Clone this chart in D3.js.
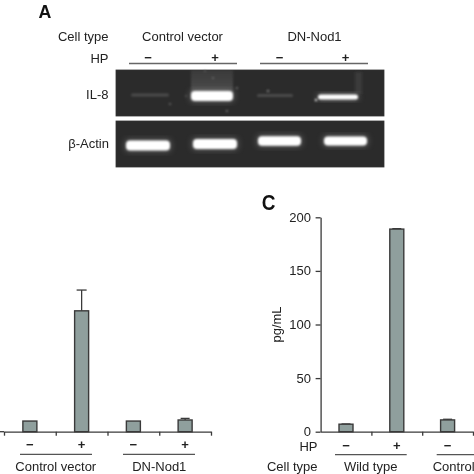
<!DOCTYPE html>
<html><head><meta charset="utf-8">
<script src="https://cdn.jsdelivr.net/npm/d3@7"></script>
<style>html,body{margin:0;padding:0;background:#fff}svg{display:block;filter:blur(.3px)}text{font-family:"Liberation Sans",Arial,sans-serif;font-size:13px;fill:#222}</style>
</head><body><svg id="c" width="474" height="474"></svg>
<script>
// Panel A gel data
const gelLanes = ["Control vector -","Control vector +","DN-Nod1 -","DN-Nod1 +"];
const il8Intensity = [0.15,1,0.15,1];
const il8Width = [38,42,36,40];
const il8Height = [3,10,3,5];
const il8Center = [95,96,95.5,97];
const actinIntensity = [1,1,1,1];
const actinWidth = [44,44,43,43];
const actinHeight = [10,10,9.5,9];
const actinCenter = [145.5,144,141,141];
const actinLaneX = [148,215,279.5,345.5];
const il8LaneX = [150,212,275,338];
const specksX = [205,213,237,186,170,227,268,316];
const specksY = [71,78,88,96,104,111,91,100];
const specksR = [.8,.9,1,.8,.9,1.1,1.3,1.2];
// Panel B data
const bLanes = ["−","+","−","+"];
const bValues = [1,11.35,1,1.1];
const bErrors = [0,1.95,0,0.15];
const bGroups = ["Control vector","DN-Nod1"];
// Panel C data
const cLanes = ["−","+","−"];
const cValues = [7,189,11];
const cErrors = [0.2,0.4,0.6];
const cTicks = [0,50,100,150,200];
const cGroups = ["Wild type","Control"];

const svg = d3.select("#c");
const ink = "#3a3a3a", barFill = "#8f9f9d", ruleC = "#555";
const defs = svg.append("defs");
defs.append("filter").attr("id","soft").attr("x","-30%").attr("y","-80%").attr("width","160%").attr("height","260%")
  .append("feGaussianBlur").attr("stdDeviation","1.3");
defs.append("filter").attr("id","soft2").attr("x","-30%").attr("y","-30%").attr("width","160%").attr("height","160%")
  .append("feGaussianBlur").attr("stdDeviation","3");
defs.append("filter").attr("id","tiny").attr("x","-100%").attr("y","-200%").attr("width","300%").attr("height","500%")
  .append("feGaussianBlur").attr("stdDeviation","0.9");
const smear = defs.append("linearGradient").attr("id","smear").attr("x1",0).attr("x2",0).attr("y1",0).attr("y2",1);
smear.append("stop").attr("offset","0").attr("stop-color","#666").attr("stop-opacity",.25);
smear.append("stop").attr("offset","1").attr("stop-color","#888").attr("stop-opacity",.4);

function label(x,y,t,anchor,size,weight){
  const e = svg.append("text").attr("x",x).attr("y",y).attr("text-anchor",anchor||"start").text(t);
  if(size) e.style("font-size",size+"px");
  if(weight) e.style("font-weight",weight);
  return e;
}
function rule(x1,x2,y,col,w){svg.append("line").attr("x1",x1).attr("x2",x2).attr("y1",y).attr("y2",y).attr("stroke",col||ruleC).attr("stroke-width",w||1.2);}

// Panel letters
svg.append("text").attr("transform","translate(45,17.5) scale(1.05,1.1)").attr("text-anchor","middle").style("font-size","17px").style("font-weight","bold").style("fill","#111").text("A");
svg.append("text").attr("transform","translate(268.5,210) scale(.95,1.08)").attr("text-anchor","middle").style("font-size","20px").style("font-weight","bold").style("fill","#111").text("C");

// Panel A header
label(108.5,41,"Cell type","end");
label(108.5,63,"HP","end");
label(182.5,41,"Control vector","middle");
label(314.5,41,"DN-Nod1","middle");
gelLanes.forEach((l,i)=>{label(actinLaneX[i],62,i%2?"+":"−","middle",13,"bold")});
rule(129,237,63.5,"#666",1.3); rule(260,368,63.5,"#666",1.3);
label(108.5,99,"IL-8","end");
label(109,148,"β-Actin","end");

function gel(y,h){
  svg.append("rect").attr("x",116).attr("y",y).attr("width",268).attr("height",h).attr("fill","#2b2b2b").attr("stroke","#333").attr("stroke-width",.8);
}
gel(70,46); gel(121,46);
const clip = defs.append("clipPath").attr("id","g1"); clip.append("rect").attr("x",116).attr("y",70).attr("width",268).attr("height",46);
const gA = svg.append("g").attr("clip-path","url(#g1)");
gA.append("rect").attr("x",191).attr("y",70).attr("width",42).attr("height",24).attr("fill","url(#smear)").attr("filter","url(#soft)");
gA.append("rect").attr("x",355).attr("y",72).attr("width",7).attr("height",22).attr("fill","#3a3a3a").attr("filter","url(#soft)");
function bands(xs,cs,ws,hs,op){
  xs.forEach((x,i)=>{
    if(op[i]>=.9) svg.append("rect").attr("x",x-ws[i]/2-1).attr("y",cs[i]-hs[i]/2-1).attr("width",ws[i]+2).attr("height",hs[i]+2).attr("rx",4).attr("fill","#888").attr("filter","url(#soft2)").attr("opacity",.55);
    svg.append("rect").attr("x",x-ws[i]/2).attr("y",cs[i]-hs[i]/2).attr("width",ws[i]).attr("height",hs[i]).attr("rx",Math.min(4,hs[i]/2))
      .attr("fill","#fff").attr("opacity",op[i]).attr("filter",op[i]>=.9?"url(#soft)":"url(#tiny)");
  });
}
bands(il8LaneX,il8Center,il8Width,il8Height,il8Intensity);
bands(actinLaneX,actinCenter,actinWidth,actinHeight,actinIntensity);
specksX.forEach((x,i)=>svg.append("circle").attr("cx",x).attr("cy",specksY[i]).attr("r",specksR[i]).attr("fill",i>6?"#ddd":"#777").attr("filter","url(#tiny)"));

// Shared baseline
const yBase = 431.7;
function barsPanel(xs,ys,vals,errs,w){
  vals.forEach((v,i)=>{
    const cx=xs(i+.5);
    if(errs[i]>0){
      const top=ys(v+errs[i]), capW = errs[i]>1?5:4.5;
      svg.append("line").attr("x1",cx).attr("x2",cx).attr("y1",top).attr("y2",ys(v)).attr("stroke",ink).attr("stroke-width",1.3);
      svg.append("line").attr("x1",cx-capW).attr("x2",cx+capW).attr("y1",top).attr("y2",top).attr("stroke",ink).attr("stroke-width",1.3);
    }
    svg.append("rect").attr("x",cx-w/2).attr("y",ys(v)).attr("width",w).attr("height",ys(0)-ys(v))
      .attr("fill",barFill).attr("stroke",ink).attr("stroke-width",1.4);
  });
}
function styleAxis(g){g.selectAll("path,line").attr("stroke",ink).attr("stroke-width",1.3);}

// Panel B
const xB = d3.scaleLinear().domain([0,4]).range([4,211]);
const yB = d3.scaleLinear().domain([0,1]).range([yBase,yBase-10.65]);
barsPanel(xB,yB,bValues,bErrors,14);
svg.append("g").attr("transform",`translate(0,${yBase})`)
  .call(d3.axisBottom(xB).tickValues([0,1,2,3,4]).tickSize(4).tickSizeOuter(0).tickFormat(""))
  .call(styleAxis);
svg.append("line").attr("x1",0).attr("x2",4).attr("y1",yBase).attr("y2",yBase).attr("stroke",ink).attr("stroke-width",1.3);
bLanes.forEach((t,i)=>label(xB(i+.5),449,t,"middle",13,"bold"));
rule(20,92,454.3); rule(123,195,454.3);
label(xB(1),471,bGroups[0],"middle");
label(xB(3),471,bGroups[1],"middle");

// Panel C
const xC = d3.scaleLinear().domain([0,3]).range([320.6,473]);
const yC = d3.scaleLinear().domain([0,200]).range([yBase,217.3]);
barsPanel(xC,yC,cValues,cErrors,14);
svg.append("g").attr("transform",`translate(${xC(0)},0)`)
  .call(d3.axisLeft(yC).tickValues(cTicks).tickSize(5).tickSizeOuter(0).tickFormat(""))
  .call(styleAxis);
svg.append("g").attr("transform",`translate(0,${yBase})`)
  .call(d3.axisBottom(xC).tickValues([1,2,3]).tickSize(4).tickSizeOuter(0).tickFormat(""))
  .call(styleAxis);
cTicks.forEach(t=>label(311,yC(t)+4.4,String(t),"end"));
svg.append("text").attr("transform","translate(281,324.5) rotate(-90)").attr("text-anchor","middle").text("pg/mL");
label(317.5,451,"HP","end");
cLanes.forEach((t,i)=>label(xC(i+.5),450,t,"middle",13,"bold"));
rule(335,406.7,454.7); rule(436.7,474,454.7);
label(317.5,471,"Cell type","end");
label(370.7,471,cGroups[0],"middle");
label(432.7,471,cGroups[1],"start");
</script></body></html>
